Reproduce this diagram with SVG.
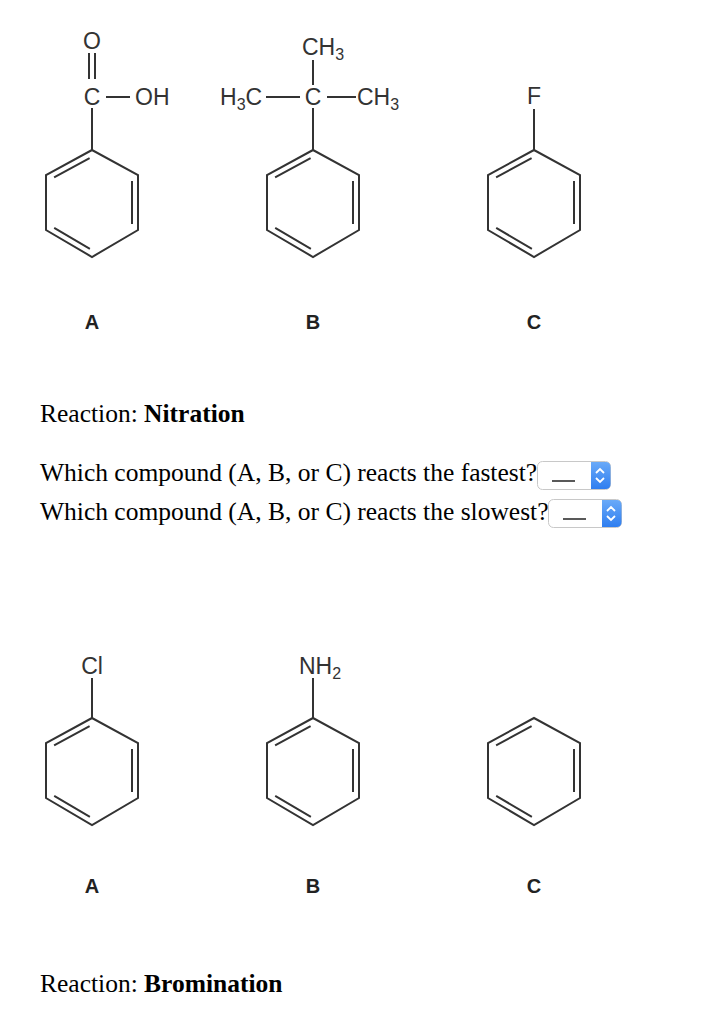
<svg xmlns="http://www.w3.org/2000/svg" xmlns:xlink="http://www.w3.org/1999/xlink" width="710" height="1024" viewBox="0 0 710 1024">
<style>
.b{stroke:#333;stroke-width:2;fill:none}
.s{font-family:"Liberation Sans",Arial,sans-serif;font-size:23px;fill:#333}
.sub{font-size:16px}
.lab{font-family:"Liberation Sans",Arial,sans-serif;font-size:20px;font-weight:bold;fill:#222;text-anchor:middle}
.t{font-family:"Liberation Serif","Times New Roman",serif;font-size:25.5px;fill:#000}
</style>
<defs>
<g id="ring" class="b">
<path d="M0,0 L-46,25 L-46,80 L0,107 L46,80 L46,25 Z"/>
<path d="M-2.4,8.1 L-37.9,27.4 M40,31 L40,74 M-37.8,77.9 L-2.1,98.8"/>
</g>
<linearGradient id="bl" x1="0" y1="0" x2="0" y2="1"><stop offset="0" stop-color="#6aaaf8"/><stop offset="1" stop-color="#2f7ef0"/></linearGradient>
<g id="dd">
<rect x="0.5" y="0.5" width="73" height="28" rx="5" fill="#fff" stroke="#c8c8c8"/>
<path d="M54,1 h15 a4.5,4.5 0 0 1 4.5,4.5 v18 a4.5,4.5 0 0 1 -4.5,4.5 h-15 z" fill="url(#bl)"/>
<path d="M59,12 l4,-4 l4,4 M59,17 l4,4 l4,-4" stroke="#fff" stroke-width="1.8" fill="none"/>
<line x1="15" y1="20" x2="38" y2="20" stroke="#222" stroke-width="1.5"/>
</g>
</defs>
<g id="nodeA1">
<use href="#ring" x="92" y="150"/>
<text class="s" x="92" y="49" text-anchor="middle">O</text>
<text class="s" x="92" y="105" text-anchor="middle">C</text>
<text class="s" x="135" y="105">OH</text>
<path class="b" d="M89,53 V79 M95,53 V79 M106,97 H130 M92,108 V150"/>
<text class="lab" x="92" y="329">A</text>
</g>
<g id="nodeB1">
<use href="#ring" x="313" y="150"/>
<text class="s" x="302" y="55">CH<tspan class="sub" dy="5">3</tspan></text>
<text class="s" x="220" y="105">H<tspan class="sub" dy="5">3</tspan><tspan dy="-5">C</tspan></text>
<text class="s" x="313" y="105" text-anchor="middle">C</text>
<text class="s" x="357" y="105">CH<tspan class="sub" dy="5">3</tspan></text>
<path class="b" d="M313,60 V85 M266,97 H300 M327,97 H356 M313,108 V150"/>
<text class="lab" x="313" y="329">B</text>
</g>
<g id="nodeC1">
<use href="#ring" x="534" y="150"/>
<text class="s" x="534" y="104" text-anchor="middle">F</text>
<path class="b" d="M534,109 V150"/>
<text class="lab" x="534" y="329">C</text>
</g>
<text class="t" x="40" y="422">Reaction: <tspan font-weight="bold">Nitration</tspan></text>
<text class="t" x="40" y="481">Which compound (A, B, or C) reacts the fastest?</text>
<text class="t" x="40" y="520">Which compound (A, B, or C) reacts the slowest?</text>
<use href="#dd" x="537" y="461"/>
<use href="#dd" x="548" y="499"/>
<g id="nodeA2">
<use href="#ring" x="92" y="718"/>
<text class="s" x="92" y="674" text-anchor="middle">Cl</text>
<path class="b" d="M92,678 V718"/>
<text class="lab" x="92" y="893">A</text>
</g>
<g id="nodeB2">
<use href="#ring" x="313" y="718"/>
<text class="s" x="299" y="674">NH<tspan class="sub" dy="5">2</tspan></text>
<path class="b" d="M313,678 V718"/>
<text class="lab" x="313" y="893">B</text>
</g>
<g id="nodeC2">
<use href="#ring" x="534" y="718"/>
<text class="lab" x="534" y="893">C</text>
</g>
<text class="t" x="40" y="992">Reaction: <tspan font-weight="bold">Bromination</tspan></text>
<g id="connectors"/>
</svg>
